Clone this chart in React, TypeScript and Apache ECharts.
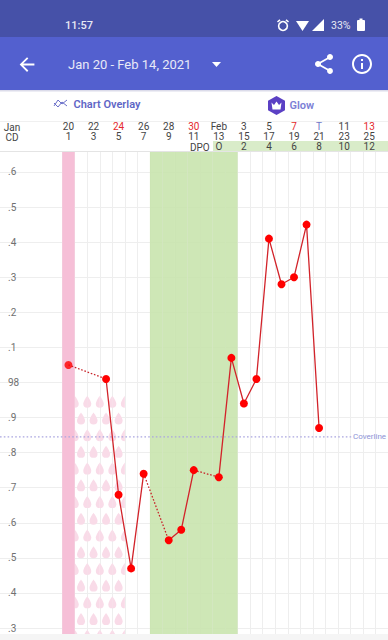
import React, { useEffect, useRef } from "react";
import * as echarts from "echarts";

const cycleDays = Array.from({ length: 26 }, (_, i) => i + 1);
const dateRow = ["20", "22", "24", "26", "28", "30", "Feb", "3", "5", "7", "T", "11", "13"];
const cdRow = ["1", "3", "5", "7", "9", "11", "13", "15", "17", "19", "21", "23", "25"];
const dpoRow = [" ", " ", " ", " ", " ", " ", "O", "2", "4", "6", "8", "10", "12"];
const redDates = ["24", "30", "7", "13"];

const yMin = 97.2;
const yMax = 98.7;
const bandCap = 98.657;

const solidTemps = [
  null, null, null, 98.01, 97.68, 97.47, 97.74, null, 97.55, 97.58, 97.75, null, 97.73,
  98.07, 97.94, 98.01, 98.41, 98.28, 98.30, 98.45, 97.87, null, null, null, null, null,
];
const isolatedPoint = [[0, 98.05]];
const dottedA = [[0, 98.05], [3, 98.01]];
const dottedB = [[6, 97.74], [8, 97.55]];
const dottedC = [[10, 97.75], [12, 97.73]];
const pinkDays = [0];
const greenDays = [7, 8, 9, 10, 11, 12, 13];
const dropDays = [1, 2, 3, 4];
const coverline = 97.845;
const coverSpan = [0, 352];

const ARROW = "M20 11H7.83l5.59-5.59L12 4l-8 8 8 8 1.41-1.41L7.83 13H20v-2z";
const SHARE = "M18 16.08c-.76 0-1.44.3-1.96.77L8.91 12.7c.05-.23.09-.46.09-.7s-.04-.47-.09-.7l7.05-4.11c.54.5 1.25.81 2.04.81 1.66 0 3-1.34 3-3s-1.34-3-3-3-3 1.34-3 3c0 .24.04.47.09.7L8.04 9.81C7.5 9.31 6.79 9 6 9c-1.66 0-3 1.34-3 3s1.34 3 3 3c.79 0 1.5-.31 2.04-.81l7.12 4.16c-.05.21-.08.43-.08.65 0 1.61 1.31 2.92 2.92 2.92 1.61 0 2.92-1.31 2.92-2.92s-1.31-2.92-2.92-2.92z";
const INFO = "M11 7h2v2h-2zm0 4h2v6h-2zm1-9C6.48 2 2 6.48 2 12s4.48 10 10 10 10-4.48 10-10S17.52 2 12 2zm0 18c-4.41 0-8-3.59-8-8s3.59-8 8-8 8 3.59 8 8-3.59 8-8 8z";
const DROP = "M5 0C5 0 0 7 0 10.5A5 5 0 0 0 10 10.5C10 7 5 0 5 0Z";

echarts.graphic.registerShape("iconArrow", echarts.graphic.extendPath(ARROW, {}));
echarts.graphic.registerShape("iconShare", echarts.graphic.extendPath(SHARE, {}));
echarts.graphic.registerShape("iconInfo", echarts.graphic.extendPath(INFO, {}));

const FONT = "Roboto";
const txt = (text: string, x: number, y: number, size: number, fill: string, extra: any = {}) => ({
  type: "text",
  x,
  y,
  z: 8,
  style: { text, fontSize: size, fill, fontFamily: FONT, verticalAlign: "middle", ...extra },
});

const dottedSeries = (data: number[][]) => ({
  type: "line",
  xAxisIndex: 0,
  yAxisIndex: 0,
  z: 3,
  data,
  symbol: "none",
  silent: true,
  lineStyle: { color: "#c8242a", width: 1.3, type: [1.6, 1.8] },
});

export default function App() {
  const ref = useRef<HTMLDivElement>(null);
  useEffect(() => {
    document.body.style.margin = "0";
    document.body.style.overflow = "hidden";
    const chart = echarts.init(ref.current!, null, { renderer: "svg" });
    chart.setOption({
      animation: false,
      backgroundColor: "#ffffff",
      textStyle: { fontFamily: FONT },
      grid: [
        { left: 62.2, width: 326.3, top: 136.9, height: 526.2 },
        { left: 0, width: 388, top: 136.9, height: 526.2 },
      ],
      xAxis: [
        {
          type: "category",
          gridIndex: 0,
          data: cycleDays,
          position: "bottom",
          boundaryGap: true,
          axisLine: { show: false },
          axisTick: { show: false },
          axisLabel: { show: false },
          splitLine: { show: true, interval: 0, lineStyle: { color: "#eeeeee", width: 1 } },
        },
        { type: "value", gridIndex: 1, min: 0, max: 388, show: false, splitLine: { show: false } },
        {
          type: "category",
          gridIndex: 0,
          data: cycleDays,
          position: "top",
          z: 5,
          boundaryGap: true,
          axisLine: { show: false },
          axisTick: { show: false },
          splitLine: { show: false },
          axisLabel: {
            show: true,
            interval: 1,
            margin: -15,
            hideOverlap: false,
            fontFamily: FONT,
            formatter: (_: string, i: number) => {
              const k = i / 2;
              const d = dateRow[k];
              const style = redDates.includes(d) ? "r" : d === "T" ? "t" : "n";
              return `{${style}|${d}}\n{n|${cdRow[k]}}\n{n|${dpoRow[k]}}`;
            },
            rich: {
              n: { color: "#444444", fontSize: 10, lineHeight: 10, fontFamily: FONT },
              r: { color: "#e5282c", fontSize: 10, lineHeight: 10, fontFamily: FONT },
              t: { color: "#7177c8", fontSize: 10, lineHeight: 10, fontFamily: FONT },
            },
          },
        },
      ],
      yAxis: [
        { type: "value", gridIndex: 0, min: yMin, max: yMax, interval: 0.1, show: false, splitLine: { show: false } },
        {
          type: "value",
          gridIndex: 1,
          min: yMin,
          max: yMax,
          interval: 0.1,
          axisLine: { show: false },
          axisTick: { show: false },
          splitLine: { show: true, lineStyle: { color: "#eeeeee", width: 1.2 } },
          axisLabel: {
            inside: true,
            margin: 8,
            showMinLabel: false,
            showMaxLabel: false,
            color: "#707070",
            fontSize: 10,
            fontFamily: FONT,
            formatter: (v: number) => {
              const r = Math.round(v * 10) / 10;
              return r === 98 ? "98" : "." + Math.round((r - Math.floor(r)) * 10);
            },
          },
        },
      ],
      series: [
        {
          type: "bar",
          xAxisIndex: 0,
          yAxisIndex: 0,
          z: 1,
          barWidth: "100%",
          barGap: "-100%",
          silent: true,
          itemStyle: { color: "#f5bcd5", opacity: 0.95 },
          data: cycleDays.map((_, i) => (pinkDays.includes(i) ? bandCap : null)),
        },
        {
          type: "bar",
          xAxisIndex: 0,
          yAxisIndex: 0,
          z: 1,
          barWidth: "100%",
          barGap: "-100%",
          silent: true,
          itemStyle: { color: "#c6e3a9", opacity: 0.85 },
          data: cycleDays.map((_, i) => (greenDays.includes(i) ? bandCap : null)),
        },
        {
          type: "custom",
          xAxisIndex: 0,
          yAxisIndex: 0,
          z: 1,
          silent: true,
          clip: false,
          data: dropDays.map((d) => [d, 98]),
          renderItem: (_: any, api: any) => {
            const p = api.coord([api.value(0), api.value(1)]);
            const w = api.size([1, 0])[0];
            const cx = p[0];
            const top = 401.7;
            const step = 16.72;
            const dw = 8;
            const dh = 12;
            const children: any[] = [];
            for (let r = 0; r < 15; r++) {
              const y = top + r * step;
              const xs = r % 2 === 0 ? [cx - w / 2, cx + w / 2] : [cx];
              xs.forEach((x) =>
                children.push({
                  type: "path",
                  shape: { pathData: DROP, x: x - dw / 2, y: y - dh / 2, width: dw, height: dh, layout: "cover" },
                  style: { fill: "#f9dbe8" },
                })
              );
            }
            return {
              type: "group",
              clipPath: { type: "rect", shape: { x: cx - w / 2, y: 390, width: w, height: 250 } },
              children,
            };
          },
        },
        {
          type: "line",
          xAxisIndex: 1,
          yAxisIndex: 1,
          z: 2,
          silent: true,
          symbol: "none",
          data: coverSpan.map((x) => [x, coverline]),
          lineStyle: { color: "#aaa6e0", width: 1.2, type: [1.6, 2.2] },
          endLabel: {
            show: true,
            formatter: "Coverline",
            color: "#8d92d6",
            fontSize: 8,
            fontFamily: FONT,
            distance: 1,
          },
        },
        dottedSeries(dottedA),
        dottedSeries(dottedB),
        dottedSeries(dottedC),
        {
          type: "line",
          xAxisIndex: 0,
          yAxisIndex: 0,
          z: 4,
          silent: true,
          data: solidTemps,
          connectNulls: false,
          showSymbol: true,
          showAllSymbol: true,
          symbol: "circle",
          symbolSize: 8,
          itemStyle: { color: "#ff0000" },
          lineStyle: { color: "#d2232a", width: 1.3 },
        },
        {
          type: "scatter",
          xAxisIndex: 0,
          yAxisIndex: 0,
          z: 4,
          silent: true,
          symbol: "circle",
          symbolSize: 8,
          itemStyle: { color: "#ff0000" },
          data: isolatedPoint,
        },
      ],
      graphic: [
        { type: "rect", z: 1, shape: { x: 0, y: 90, width: 388, height: 62 }, style: { fill: "#ffffff" } },
        { type: "line", z: 2, shape: { x1: 0, y1: 121.5, x2: 388, y2: 121.5 }, style: { stroke: "#f0f0f0", lineWidth: 1 } },
        { type: "line", z: 2, shape: { x1: 0, y1: 151.5, x2: 388, y2: 151.5 }, style: { stroke: "#e4e4e4", lineWidth: 1 } },
        { type: "rect", z: 2, shape: { x: 213, y: 141, width: 175, height: 10 }, style: { fill: "#d9ecc9" } },
        { type: "rect", z: 7, shape: { x: 0, y: 0, width: 388, height: 37 }, style: { fill: "#4651a8" } },
        { type: "rect", z: 7, shape: { x: 0, y: 37, width: 388, height: 53 }, style: { fill: "#5360cf" } },
        { type: "rect", z: 7, shape: { x: 0, y: 90, width: 388, height: 1.5 }, style: { fill: "#dcdcea" } },
        { type: "rect", z: 7, shape: { x: 0, y: 634, width: 388, height: 66 }, style: { fill: "#f5f5f5" } },

        txt("11:57", 65, 25, 11, "#e8e9f5", { fontWeight: 500 }),
        { type: "circle", z: 8, shape: { cx: 283, cy: 26, r: 4.4 }, style: { fill: "none", stroke: "#ffffff", lineWidth: 1.6 } },
        { type: "line", z: 8, shape: { x1: 277.5, y1: 22, x2: 280, y2: 19.8 }, style: { stroke: "#ffffff", lineWidth: 1.6 } },
        { type: "line", z: 8, shape: { x1: 288.5, y1: 22, x2: 286, y2: 19.8 }, style: { stroke: "#ffffff", lineWidth: 1.6 } },
        { type: "polygon", z: 8, shape: { points: [[296, 21], [309, 21], [302.5, 31]] }, style: { fill: "#ffffff" } },
        { type: "polygon", z: 8, shape: { points: [[324, 19], [324, 31], [312, 31]] }, style: { fill: "#ffffff" } },
        txt("33%", 331, 25, 10.5, "#e8e9f5"),
        { type: "rect", z: 8, shape: { x: 357, y: 20, width: 8, height: 11, r: 1 }, style: { fill: "#ffffff" } },
        { type: "rect", z: 8, shape: { x: 359.5, y: 18.5, width: 3, height: 2 }, style: { fill: "#ffffff" } },

        { type: "iconArrow", z: 8, x: 16, y: 53.5, scaleX: 0.92, scaleY: 0.92, style: { fill: "#ffffff" } },
        txt("Jan 20 - Feb 14, 2021", 68, 64.5, 13, "#e8e9f7"),
        { type: "polygon", z: 8, shape: { points: [[212, 62], [221, 62], [216.5, 67]] }, style: { fill: "#ffffff" } },
        { type: "iconShare", z: 8, x: 312, y: 52, scaleX: 1, scaleY: 1, style: { fill: "#ffffff" } },
        { type: "iconInfo", z: 8, x: 350, y: 52, scaleX: 1, scaleY: 1, style: { fill: "#ffffff" } },

        { type: "polyline", z: 8, shape: { points: [[54, 106], [58, 100], [62, 104], [67, 100]] }, style: { fill: "none", stroke: "#6a6fc9", lineWidth: 1 } },
        { type: "polyline", z: 8, shape: { points: [[54, 103], [58, 107], [62, 102], [67, 106]] }, style: { fill: "none", stroke: "#6a6fc9", lineWidth: 1 } },
        txt("Chart Overlay", 73.5, 104, 11, "#5f66c6", { fontWeight: 600 }),
        { type: "polygon", z: 8, shape: { points: [[276.5, 96], [285, 100.7], [285, 110.3], [276.5, 115], [268, 110.3], [268, 100.7]] }, style: { fill: "#5b40c4" } },
        { type: "polygon", z: 8, shape: { points: [[271.5, 102.5], [274, 105], [276.5, 101.5], [279, 105], [281.5, 102.5], [280.5, 109.5], [272.5, 109.5]] }, style: { fill: "#ffffff" } },
        txt("Glow", 289.5, 105.5, 11, "#7b80d6", { fontWeight: 600 }),

        { type: "text", z: 8, x: 12, y: 132, style: { text: "Jan\nCD", fontSize: 10, lineHeight: 10, fill: "#444444", fontFamily: FONT, align: "center", verticalAlign: "middle" } },
        txt("DPO", 190, 147, 10, "#444444"),
      ],
    });
    return () => chart.dispose();
  }, []);
  return (
    <div style={{ width: 388, height: 640, overflow: "hidden" }}>
      <div ref={ref} style={{ width: 388, height: 700 }} />
    </div>
  );
}
